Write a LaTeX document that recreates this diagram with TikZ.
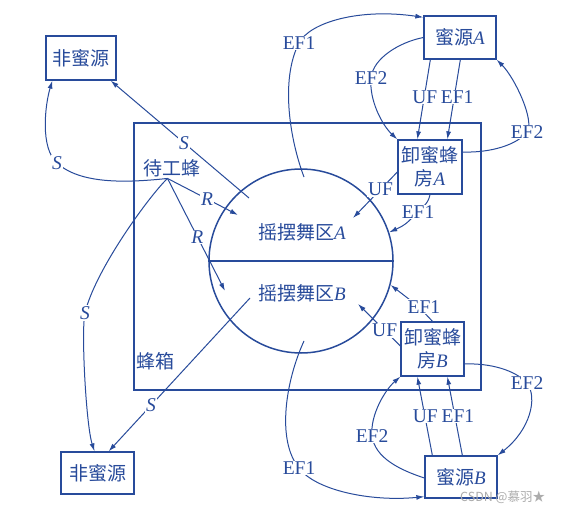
\documentclass[tikz,border=0pt]{standalone}
\usepackage{fontspec}
\setmainfont{Liberation Serif}
\newfontfamily\cjk{Noto Sans CJK SC}
\usetikzlibrary{arrows.meta}
\definecolor{bl}{RGB}{40,75,155}
\newcommand{\zh}[1]{{\cjk #1}}
\begin{document}
\begin{tikzpicture}[x=1pt,y=-1pt,
  every node/.style={text=bl, font=\fontsize{19}{23}\selectfont},
  box/.style={draw=bl, line width=1.3pt, inner sep=0pt, align=center},
  conn/.style={draw=bl, line width=1pt, -{Latex[length=8pt,width=5pt]}},
  plain/.style={draw=bl, line width=1.3pt},
  lbl/.style={fill=white, inner sep=1pt, font=\fontsize{19.5}{23}\selectfont}]
\useasboundingbox (0,0) rectangle (562,513);
\fill[white] (0,0) rectangle (562,513);

% hive rectangle
\node[draw=bl, line width=1.3pt, minimum width=347pt, minimum height=267pt, inner sep=0pt] (hivebox) at (307.5,256.5) {};
\node (hivelbl) at (155.5,361) {\zh{蜂箱}};

% boxes
\node[box, minimum width=70pt, minimum height=44pt] (nsA) at (81,58) {\zh{非蜜源}};
\node[box, minimum width=73pt, minimum height=42pt] (nsB) at (97.5,473) {\zh{非蜜源}};
\node[box, minimum width=72pt, minimum height=43pt] (srcA) at (460,37.5) {\zh{蜜源}\textit{A}};
\node[box, minimum width=72pt, minimum height=42pt] (srcB) at (461,477) {\zh{蜜源}\textit{B}};
\node[box, minimum width=64pt, minimum height=54pt] (hiveA) at (430,167) {\zh{卸蜜蜂}\\\zh{房}\textit{A}};
\node[box, minimum width=63pt, minimum height=54pt] (hiveB) at (432.5,349) {\zh{卸蜜蜂}\\\zh{房}\textit{B}};

% worker bees
\node[inner sep=1pt] (worker) at (171.5,168.5) {\zh{待工蜂}};

% dance floor
\node[draw=bl, line width=1.5pt, circle, minimum size=184pt, inner sep=0pt] (dance) at (301,261) {};
\draw[plain] (dance.west) -- (dance.east);
\node (dA) at (302,232) {\zh{摇摆舞区}\textit{A}};
\node (dB) at (302,293) {\zh{摇摆舞区}\textit{B}};

% free ends
\coordinate (sA) at (249,198);
\coordinate (rA) at (238,215);
\coordinate (rB) at (225,291);
\coordinate (sB) at (250,298);
\coordinate (e1a) at (304,177);
\coordinate (e1b) at (304,341);
\coordinate (ufA) at (353,218);
\coordinate (ufB) at (358,304);

% left connectors
\draw[conn] ([xshift=-4pt]worker.south) .. controls (125,183) and (80,184) .. (57,163) node[lbl]{\textit{S}} .. controls (40,148) and (45,105) .. ([xshift=7pt]nsA.south west);
\draw[conn] (sA) -- node[lbl,pos=0.47]{\textit{S}} ([xshift=-6pt]nsA.south east);
\draw[conn] ([xshift=-4pt]worker.south) -- node[lbl,pos=0.56]{\textit{R}} (rA);
\draw[conn] ([xshift=-4pt]worker.south) -- node[lbl,pos=0.52]{\textit{R}} (rB);
\draw[conn] ([xshift=-4pt]worker.south) .. controls (150,195) and (95,270) .. (85,313) node[lbl]{\textit{S}} .. controls (81,330) and (86,425) .. ([xshift=-3pt]nsB.north);
\draw[conn] (sB) -- node[lbl,pos=0.7]{\textit{S}} ([xshift=-26pt]nsB.north east);

% top right connectors
\draw[conn] (e1a) .. controls (290,140) and (280,80) .. (299,43) node[lbl]{EF1} .. controls (310,22) and (360,8) .. ([yshift=-2pt]srcA.north west);
\draw[conn] (srcA.west) .. controls (400,42) and (373,58) .. (371,78) node[lbl]{EF2} .. controls (369,100) and (382,125) .. (hiveA.north west);
\draw[conn] ([xshift=7pt]srcA.south west) -- node[lbl,pos=0.47,xshift=0.5pt,inner sep=0.3pt]{UF} ([xshift=20pt]hiveA.north west);
\draw[conn] ([xshift=37pt]srcA.south west) -- node[lbl,pos=0.47,xshift=3pt,inner sep=0.3pt]{EF1} ([xshift=50pt]hiveA.north west);
\draw[conn] ([yshift=15pt]hiveA.east) .. controls (490,153) and (517,145) .. (527,132) node[lbl]{EF2} .. controls (535,121) and (515,78) .. (srcA.south east);
\draw[conn] ([yshift=-5pt]hiveA.west) -- node[lbl,pos=0.38]{UF} (ufA);
\draw[conn] (hiveA.south) .. controls (428,202) .. (418,212) node[lbl]{EF1} .. controls (405,225) .. (dance.18);

% bottom right connectors
\draw[conn] (hiveB.north) .. controls (418,306) .. node[lbl,pos=0.45,xshift=6pt]{EF1} (dance.-15);
\draw[conn] ([yshift=3pt]hiveB.west) -- node[lbl,pos=0.37]{UF} (ufB);
\draw[conn] (e1b) .. controls (286,380) and (276,440) .. (299,468) node[lbl]{EF1} .. controls (315,490) and (370,502) .. ([yshift=2pt]srcB.south west);
\draw[conn] ([yshift=-1pt]srcB.west) .. controls (400,470) and (375,458) .. (372,436) node[lbl]{EF2} .. controls (370,415) and (385,390) .. (hiveB.south west);
\draw[conn] ([xshift=8pt]srcB.north west) -- node[lbl,pos=0.5,xshift=0.5pt,inner sep=0.3pt]{UF} ([xshift=17pt]hiveB.south west);
\draw[conn] ([xshift=38pt]srcB.north west) -- node[lbl,pos=0.5,xshift=3pt,inner sep=0.3pt]{EF1} ([xshift=47pt]hiveB.south west);
\draw[conn] ([yshift=-15pt]hiveB.east) .. controls (490,363) and (515,370) .. (527,383) node[lbl]{EF2} .. controls (538,398) and (530,430) .. (srcB.north east);

% watermark
\node[text=gray!65, font=\cjk\fontsize{12.5}{14}\selectfont, anchor=west, inner sep=0pt] (wm) at (460,497) {CSDN @慕羽★};
\end{tikzpicture}
\end{document}
